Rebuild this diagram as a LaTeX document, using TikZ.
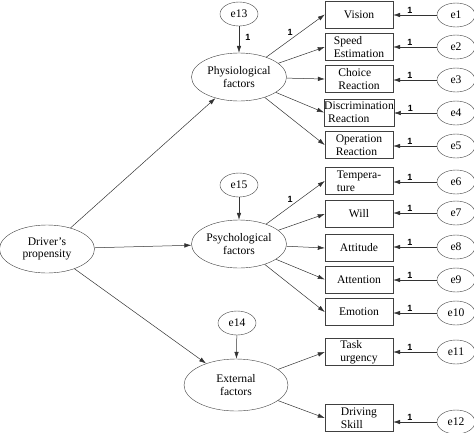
\documentclass[tikz,border=0pt]{standalone}
\usepackage{fontspec}
\setmainfont{Liberation Serif}
\newfontfamily\onefont{Liberation Sans}
\usetikzlibrary{positioning,arrows.meta,shapes.geometric}

\begin{document}
\begin{tikzpicture}[
    x=1pt, y=-1pt,
    font=\fontsize{11.6}{12.6}\selectfont,
    >={Latex[length=7pt,width=4.5pt]},
    latent/.style={
        draw=black!75,
        ellipse,
        thin,
        align=center,
        inner sep=0pt,
        minimum width=95pt,
        minimum height=48pt
    },
    errnode/.style={
        draw=black!75,
        ellipse,
        thin,
        inner sep=0pt,
        minimum width=38pt,
        minimum height=24pt
    },
    item/.style={
        draw=black!75,
        thin,
        align=left,
        inner sep=0pt,
        minimum width=68pt,
        minimum height=27pt
    },
    arrow/.style={
        ->,
        line width=0.5pt,
        draw=black!80
    },
    one/.style={
        font=\onefont\bfseries\fontsize{9}{9}\selectfont,
        inner sep=1pt
    }
]
\useasboundingbox (0,0) rectangle (474,432);

% latent variables
\node[latent] (driver) at (47,249) {Driver’s\\propensity};
\node[latent] (physio) at (239,77) {Physiological\\factors};
\node[latent] (psycho) at (239,244) {Psychological\\factors};
\node[latent, minimum width=104pt, minimum height=52pt] (extern) at (236,385) {External\\factors};

\node[errnode] (e13) at (239,14) {e13};
\node[errnode] (e15) at (239,185) {e15};
\node[errnode] (e14) at (237,323) {e14};

% observed variables
\node[item] (vision) at (359,14.5) {Vision};
\node[item] (speed) at (359,47) {Speed\\Estimation};
\node[item] (choice) at (359,79) {Choice\\Reaction};
\node[item] (discrim) at (359,112.5) {Discrimination\\\hspace{4pt}Reaction};
\node[item] (operat) at (359,145) {Operation\\Reaction};
\node[item] (temper) at (359,181) {Tempera-\\ture};
\node[item] (will) at (359,214) {Will};
\node[item] (attit) at (359,248) {Attitude};
\node[item] (attent) at (359,279.5) {Attention};
\node[item] (emot) at (359,312) {Emotion};
\node[item] (task) at (359,352) {Task\\urgency};
\node[item] (skill) at (359,418) {Driving\\Skill};

% error terms
\node[errnode] (e1) at (456,15) {e1};
\node[errnode] (e2) at (456,47) {e2};
\node[errnode] (e3) at (456,80) {e3};
\node[errnode] (e4) at (456,113) {e4};
\node[errnode] (e5) at (456,146) {e5};
\node[errnode] (e6) at (456,182) {e6};
\node[errnode] (e7) at (456,213) {e7};
\node[errnode] (e8) at (456,247) {e8};
\node[errnode] (e9) at (456,280) {e9};
\node[errnode] (e10) at (456,313) {e10};
\node[errnode] (e11) at (456,352) {e11};
\node[errnode] (e12) at (456,422) {e12};

% structural paths
\draw[arrow] (driver) -- (physio);
\draw[arrow] (driver) -- (psycho);
\draw[arrow] (driver) -- (extern);
\draw[arrow] (e13) -- (physio);
\draw[arrow] (e15) -- (psycho);
\draw[arrow] (e14) -- (extern);
\node[one] (l13) at (248,37) {1};

% measurement paths
\draw[arrow] (physio) -- (vision.west);
\draw[arrow] (physio) -- (speed.west);
\draw[arrow] (physio) -- (choice.west);
\draw[arrow] (physio) -- (discrim.west);
\draw[arrow] (physio) -- (operat.west);
\node[one] (lphys) at (290,32) {1};

\draw[arrow] (psycho) -- (temper.west);
\draw[arrow] (psycho) -- (will.west);
\draw[arrow] (psycho) -- (attit.west);
\draw[arrow] (psycho) -- (attent.west);
\draw[arrow] (psycho) -- (emot.west);
\node[one] (lpsy) at (290,199) {1};

\draw[arrow] (extern) -- (task.west);
\draw[arrow] (extern) -- (skill.west);

% error paths
\draw[arrow] (e1) -- node[one, pos=0.62, above] {1} (vision.east |- e1);
\draw[arrow] (e2) -- node[one, pos=0.62, above] {1} (speed.east |- e2);
\draw[arrow] (e3) -- node[one, pos=0.62, above] {1} (choice.east |- e3);
\draw[arrow] (e4) -- node[one, pos=0.62, above] {1} (discrim.east |- e4);
\draw[arrow] (e5) -- node[one, pos=0.62, above] {1} (operat.east |- e5);
\draw[arrow] (e6) -- node[one, pos=0.62, above] {1} (temper.east |- e6);
\draw[arrow] (e7) -- node[one, pos=0.62, above] {1} (will.east |- e7);
\draw[arrow] (e8) -- node[one, pos=0.62, above] {1} (attit.east |- e8);
\draw[arrow] (e9) -- node[one, pos=0.62, above] {1} (attent.east |- e9);
\draw[arrow] (e10) -- node[one, pos=0.62, above] {1} (emot.east |- e10);
\draw[arrow] (e11) -- node[one, pos=0.62, above] {1} (task.east |- e11);
\draw[arrow] (e12) -- node[one, pos=0.62, above] {1} (skill.east |- e12);

\end{tikzpicture}
\end{document}
